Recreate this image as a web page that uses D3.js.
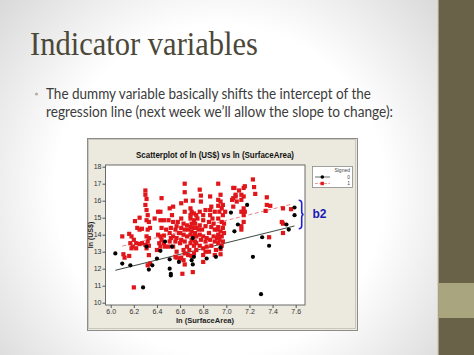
<!DOCTYPE html>
<html>
<head>
<meta charset="utf-8">
<script src="https://cdn.jsdelivr.net/npm/d3@7"></script>
<style>
  body { margin: 0; background: #fff; }
  svg { display: block; }
</style>
</head>
<body>
<svg id="slide" width="474" height="355"></svg>
<script>
// ln(SurfaceArea), ln(US$) for Signed = 0 (black dots)
var signed0 = [
  [6.04,12.90],[6.10,12.30],[6.17,12.20],[6.28,10.90],[6.31,13.30],[6.33,11.95],[6.36,12.20],
  [6.40,12.60],[6.43,13.05],[6.47,13.60],[6.51,12.55],[6.51,12.00],[6.52,11.70],[6.52,11.60],
  [6.53,13.30],[6.59,12.40],[6.70,12.50],[6.71,12.25],[6.72,12.70],[6.71,13.80],[6.83,12.60],
  [6.91,12.70],[6.95,13.25],[7.04,15.30],[7.07,14.20],[7.10,14.60],[7.18,15.75],[7.23,12.70],
  [7.30,10.50],[7.31,13.85],[7.37,13.35],[7.52,14.60],[7.54,14.30],[7.59,15.60],[7.59,15.15]
];

// Signed = 1 (red squares)
var signed1 = [
  [6.10,13.90],[6.11,12.85],[6.12,12.65],
  [6.16,14.05],[6.18,13.90],[6.17,13.50],[6.19,13.30],[6.18,13.20],[6.16,12.75],[6.20,10.90],[6.20,13.70],
  [6.21,14.80],[6.25,15.00],[6.23,14.40],[6.25,14.30],[6.22,13.50],[6.25,13.45],[6.22,13.20],[6.27,14.35],[6.27,13.50],
  [6.30,16.60],[6.30,16.35],[6.31,16.10],[6.30,15.75],[6.31,15.45],[6.32,15.15],[6.31,14.85],[6.33,14.75],
  [6.32,14.30],[6.31,13.90],[6.33,13.80],[6.32,13.60],[6.31,13.20],[6.33,13.35],[6.33,12.80],[6.32,12.20],
  [6.34,12.30],[6.34,14.40],[6.30,13.40],
  [6.41,15.35],[6.43,15.35],[6.43,14.85],[6.46,14.85],[6.44,16.15],[6.44,14.40],[6.41,14.00],[6.43,13.90],
  [6.46,13.95],[6.44,13.70],[6.42,13.50],[6.46,13.50],[6.47,13.30],[6.43,13.30],[6.38,14.95],[6.48,14.30],[6.40,13.10],
  [6.51,15.55],[6.54,15.65],[6.53,15.15],[6.50,14.85],[6.54,14.75],[6.52,14.40],[6.56,14.30],[6.51,14.10],
  [6.54,13.90],[6.51,13.60],[6.56,13.60],[6.50,13.30],[6.54,13.30],[6.52,13.80],[6.57,13.00],[6.56,12.70],
  [6.58,14.75],[6.57,14.50],[6.59,14.10],[6.57,13.80],
  [6.64,17.00],[6.64,16.50],[6.61,15.85],[6.65,16.00],[6.64,15.35],[6.61,14.95],[6.63,14.65],[6.66,14.55],
  [6.61,14.40],[6.64,14.30],[6.60,14.10],[6.63,14.00],[6.66,13.90],[6.61,13.70],[6.64,13.60],[6.60,13.50],
  [6.66,13.30],[6.63,13.10],[6.64,12.90],[6.67,12.80],[6.60,12.60],[6.63,12.50],[6.61,12.65],[6.62,11.70],
  [6.57,12.65],[6.64,12.25],
  [6.71,16.00],[6.69,15.55],[6.70,15.35],[6.72,15.25],[6.74,15.15],[6.69,14.95],[6.72,14.85],[6.70,14.65],
  [6.73,14.65],[6.69,14.45],[6.72,14.40],[6.74,14.40],[6.70,14.20],[6.73,14.10],[6.69,14.00],[6.72,13.90],
  [6.74,13.90],[6.70,13.70],[6.73,13.60],[6.69,13.50],[6.74,13.50],[6.72,13.35],[6.68,13.10],[6.74,13.10],
  [6.72,12.90],[6.70,12.75],[6.71,11.80],[6.75,14.95],[6.76,14.30],[6.67,14.30],[6.69,15.15],
  [6.77,15.35],[6.80,15.15],[6.82,15.45],[6.78,15.95],[6.80,14.85],[6.77,14.55],[6.82,14.50],[6.79,14.30],
  [6.77,14.00],[6.80,13.90],[6.83,13.80],[6.78,13.70],[6.82,13.60],[6.77,13.35],[6.80,13.20],[6.83,13.30],
  [6.80,12.80],[6.82,13.00],[6.80,12.40],[6.78,16.30],[6.77,16.65],
  [6.86,16.25],[6.87,15.65],[6.86,15.15],[6.88,14.95],[6.85,14.75],[6.89,14.65],[6.87,14.45],[6.90,14.30],
  [6.85,14.10],[6.89,13.90],[6.92,13.80],[6.86,13.70],[6.90,13.60],[6.87,13.35],[6.91,13.10],[6.85,13.00],
  [6.90,12.80],[6.93,17.00],[6.86,15.45],[6.90,15.35],
  [6.93,16.05],[6.95,16.35],[6.95,15.95],[6.93,15.70],[6.96,15.55],[6.94,15.35],[6.97,15.15],[6.93,14.95],
  [6.96,14.75],[6.98,14.65],[6.93,14.45],[6.97,14.40],[6.95,14.20],[6.93,14.00],[6.96,13.90],[6.94,13.70],
  [6.97,13.60],[6.93,13.50],[6.96,13.35],[6.95,12.85],[6.99,15.35],[6.97,15.75],[6.98,14.10],[6.93,13.90],
  [6.92,14.30],[6.95,13.15],
  [7.06,16.75],[7.07,16.75],[7.05,16.05],[7.08,16.35],[7.06,16.15],[7.09,15.95],[7.06,15.65],[7.08,16.25],
  [7.11,16.60],[7.13,16.35],[7.15,16.75],[7.16,16.85],[7.13,16.05],[7.15,15.55],[7.16,15.35],[7.13,15.35],
  [7.15,15.15],[7.15,14.75],[7.13,14.30],[7.13,14.50],[7.15,16.25],
  [7.23,17.25],[7.24,16.80],[7.25,16.40],
  [7.35,16.20],[7.35,15.75],[7.38,15.70],[7.34,15.40],[7.37,13.85],
  [7.49,15.55],[7.48,14.75],[7.49,14.65],[7.49,14.10],[7.56,15.50]
];

// fitted model: ln(US$) = b0 + b1*ln(SurfaceArea) + b2*Signed
var b0 = 1.74, b1 = 1.683, b2 = 1.32;

var xTicks = [6.0, 6.2, 6.4, 6.6, 6.8, 7.0, 7.2, 7.4, 7.6];
var yTicks = [10, 11, 12, 13, 14, 15, 16, 17, 18];
var legendLabels = ["0", "1"];

var slideTitle = "Indicator variables";
var bulletLines = [
  "The dummy variable basically shifts the intercept of the",
  "regression line (next week we\u2019ll allow the slope to change):"
];

var svg = d3.select("#slide");

// slide background with soft vignette
var defs = svg.append("defs");
var grad = defs.append("radialGradient")
  .attr("id", "vig")
  .attr("gradientUnits", "userSpaceOnUse")
  .attr("cx", 220).attr("cy", 190).attr("r", 300);
grad.append("stop").attr("offset", "0.55").attr("stop-color", "#ffffff");
grad.append("stop").attr("offset", "1").attr("stop-color", "#d6d6d6");

svg.append("rect").attr("width", 474).attr("height", 355).attr("fill", "url(#vig)");

// right side band
svg.append("rect").attr("x", 437).attr("y", 0).attr("width", 1.5).attr("height", 355).attr("fill", "#d8d4c4");
svg.append("rect").attr("x", 438.5).attr("y", 0).attr("width", 36).attr("height", 355).attr("fill", "#6a6149");
svg.append("rect").attr("x", 438.5).attr("y", 283).attr("width", 36).attr("height", 35).attr("fill", "#a9a57e");

// title + bullet
svg.append("text")
  .attr("x", 30).attr("y", 55)
  .attr("textLength", 228).attr("lengthAdjust", "spacingAndGlyphs")
  .style("font-family", "'Liberation Serif', 'DejaVu Serif', serif")
  .style("font-size", "33px")
  .style("fill", "#4b4838")
  .text(slideTitle);

svg.append("circle").attr("cx", 36.5).attr("cy", 94).attr("r", 1.6).attr("fill", "#b5b3a0");

var lineWidths = [325, 347];
svg.selectAll(".bullet")
  .data(bulletLines)
  .enter().append("text")
    .attr("class", "bullet")
    .attr("x", 46)
    .attr("y", function(d, i) { return 99 + i * 17.5; })
    .attr("textLength", function(d, i) { return lineWidths[i]; })
    .attr("lengthAdjust", "spacingAndGlyphs")
    .style("font-family", "Lato, 'Open Sans', sans-serif")
    .style("font-size", "14.5px")
    .style("fill", "#3c3c3c")
    .text(function(d) { return d; });

// chart panel
var panel = svg.append("g");
panel.append("rect")
  .attr("x", 87.5).attr("y", 138.5).attr("width", 270).attr("height", 192)
  .attr("fill", "#ece9df").attr("stroke", "#8c8c8c").attr("stroke-width", 1);
panel.append("rect")
  .attr("x", 88.5).attr("y", 139.5).attr("width", 267).attr("height", 189)
  .attr("fill", "none").attr("stroke", "#c9c6bc").attr("stroke-width", 1);

var plot = { left: 105.5, right: 305, top: 165, bottom: 305 };

var x = d3.scaleLinear()
  .domain([6.0, 7.6])
  .range([110.7, 295.7]);
var y = d3.scaleLinear()
  .domain([10, 18])
  .range([302.7, 166.7]);

panel.append("rect")
  .attr("x", plot.left).attr("y", plot.top)
  .attr("width", plot.right - plot.left).attr("height", plot.bottom - plot.top)
  .attr("fill", "#ffffff").attr("stroke", "#6a6a6a").attr("stroke-width", 1);

var xAxis = panel.append("g")
  .attr("transform", "translate(0," + plot.bottom + ")")
  .call(d3.axisBottom(x).tickValues(xTicks).tickSize(3).tickFormat(d3.format(".1f")));
var yAxis = panel.append("g")
  .attr("transform", "translate(" + plot.left + ",0)")
  .call(d3.axisLeft(y).tickValues(yTicks).tickSize(3).tickFormat(d3.format("d")));

[xAxis, yAxis].forEach(function(ax) {
  ax.select(".domain").remove();
  ax.selectAll("line").attr("stroke", "#555");
  ax.selectAll("text")
    .style("font-family", "'Liberation Sans', Arial, sans-serif")
    .style("font-size", "7px")
    .style("fill", "#333");
});
xAxis.selectAll("text").attr("dy", "0.6em").attr("y", 5);
yAxis.selectAll("text").attr("x", -4);

panel.append("text")
  .attr("x", 215).attr("y", 158)
  .attr("text-anchor", "middle")
  .attr("textLength", 158).attr("lengthAdjust", "spacingAndGlyphs")
  .style("font-family", "'Liberation Sans', Arial, sans-serif")
  .style("font-size", "8.5px").style("font-weight", "bold").style("fill", "#111")
  .text("Scatterplot of ln (US$) vs ln (SurfaceArea)");

panel.append("text")
  .attr("x", 205).attr("y", 323)
  .attr("text-anchor", "middle")
  .style("font-family", "'Liberation Sans', Arial, sans-serif")
  .style("font-size", "7.5px").style("font-weight", "bold").style("fill", "#222")
  .text("ln (SurfaceArea)");

panel.append("text")
  .attr("transform", "translate(93,235) rotate(-90)")
  .attr("text-anchor", "middle")
  .style("font-family", "'Liberation Sans', Arial, sans-serif")
  .style("font-size", "7px").style("font-weight", "bold").style("fill", "#222")
  .text("ln (US$)");

// fitted lines
function fit(d, s) { return b0 + b1 * d + b2 * s; }
var line = d3.line()
  .x(function(d) { return x(d[0]); })
  .y(function(d) { return y(d[1]); });

var ext0 = d3.extent(signed0, function(d) { return d[0]; });
var ext1 = d3.extent(signed1, function(d) { return d[0]; });

panel.append("path")
  .datum(ext0.map(function(v) { return [v, fit(v, 0)]; }))
  .attr("d", line)
  .attr("fill", "none").attr("stroke", "#3b4a40").attr("stroke-width", 1);

panel.append("path")
  .datum(ext1.map(function(v) { return [v, fit(v, 1)]; }))
  .attr("d", line)
  .attr("fill", "none").attr("stroke", "#e88080").attr("stroke-width", 1)
  .attr("stroke-dasharray", "4,2.5");

// points
panel.selectAll(".sq")
  .data(signed1)
  .enter().append("rect")
    .attr("class", "sq")
    .attr("x", function(d) { return x(d[0]) - 2.1; })
    .attr("y", function(d) { return y(d[1]) - 2.1; })
    .attr("width", 4.2).attr("height", 4.2)
    .attr("fill", "#e0161b");

panel.selectAll(".dot")
  .data(signed0)
  .enter().append("circle")
    .attr("class", "dot")
    .attr("cx", function(d) { return x(d[0]); })
    .attr("cy", function(d) { return y(d[1]); })
    .attr("r", 2.1)
    .attr("fill", "#000");

// b2 brace
var bx = x(7.6) + 5;
var yTop = y(fit(7.6, 1)) - 3, yBot = y(fit(7.6, 0)) + 3, yMid = (yTop + yBot) / 2;
panel.append("path")
  .attr("d", "M" + (bx - 2) + "," + yTop +
    " Q" + (bx + 1) + "," + yTop + " " + (bx + 1) + "," + (yTop + 3) +
    " L" + (bx + 1) + "," + (yMid - 3) +
    " Q" + (bx + 1) + "," + yMid + " " + (bx + 3) + "," + yMid +
    " Q" + (bx + 1) + "," + yMid + " " + (bx + 1) + "," + (yMid + 3) +
    " L" + (bx + 1) + "," + (yBot - 3) +
    " Q" + (bx + 1) + "," + yBot + " " + (bx - 2) + "," + yBot)
  .attr("fill", "none").attr("stroke", "#1f1fd6").attr("stroke-width", 1.6);

panel.append("text")
  .attr("x", 312.5).attr("y", yMid + 4)
  .style("font-family", "'Liberation Sans', Arial, sans-serif")
  .style("font-size", "12px").style("font-weight", "bold").style("fill", "#1a1ab8")
  .text("b2");

// legend
var legend = panel.append("g");
legend.append("rect")
  .attr("x", 312.5).attr("y", 166.5).attr("width", 40).attr("height", 21)
  .attr("fill", "#fff").attr("stroke", "#8a8a8a").attr("stroke-width", 0.8);
legend.append("text")
  .attr("x", 350).attr("y", 172)
  .attr("text-anchor", "end")
  .style("font-family", "'Liberation Sans', Arial, sans-serif")
  .style("font-size", "5px").style("fill", "#444")
  .text("Signed");

var rows = legend.selectAll(".row")
  .data(legendLabels)
  .enter().append("g")
    .attr("class", "row")
    .attr("transform", function(d, i) { return "translate(0," + (177 + i * 6.5) + ")"; });
rows.append("line")
  .attr("x1", 315).attr("x2", 330)
  .attr("stroke", function(d, i) { return i ? "#e88080" : "#3b4a40"; })
  .attr("stroke-dasharray", function(d, i) { return i ? "3,1.5" : null; })
  .attr("stroke-width", 0.8);
rows.each(function(d, i) {
  var g = d3.select(this);
  if (i) {
    g.append("rect").attr("x", 320.5).attr("y", -1.7).attr("width", 3.4).attr("height", 3.4).attr("fill", "#e0161b");
  } else {
    g.append("circle").attr("cx", 322.3).attr("cy", 0).attr("r", 1.8).attr("fill", "#000");
  }
});
rows.append("text")
  .attr("x", 350).attr("y", 1.8)
  .attr("text-anchor", "end")
  .style("font-family", "'Liberation Sans', Arial, sans-serif")
  .style("font-size", "5px").style("fill", "#444")
  .text(function(d) { return d; });
</script>
</body>
</html>
